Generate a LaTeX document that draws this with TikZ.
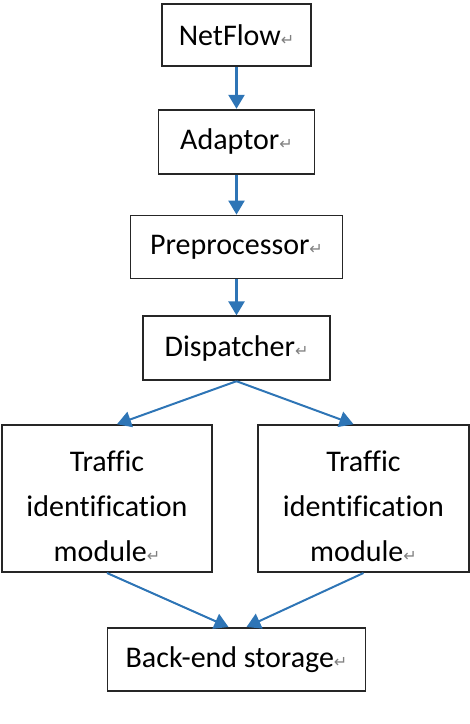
\documentclass[tikz,border=0pt]{standalone}
\usepackage{fontspec}
\setmainfont[Ligatures=NoCommon]{Carlito}
\newfontfamily\retfont{DejaVu Sans}
\usepackage{xcolor}
\usepackage{tikz}
\usetikzlibrary{arrows.meta,positioning}
\definecolor{flowblue}{RGB}{46,117,182}
\newcommand{\ret}{{\retfont\fontsize{8}{8}\selectfont\color{gray}↵}}

\begin{document}
\begin{tikzpicture}[
    module/.style={rectangle,draw=black!85,line width=0.9pt,align=center,inner sep=0pt,font=\fontsize{15}{22.5}\selectfont},
    flow/.style={-{Triangle[length=7pt,width=8pt]},draw=flowblue,line width=1.2pt},
    split/.style={flow,line width=1pt}
]
\useasboundingbox (0,0) rectangle (235pt,-362pt);
\node[module,minimum width=74.5pt,minimum height=31pt,anchor=north] (netflow) at (118.25pt,-1.5pt) {NetFlow\ret};
\node[module,minimum width=78pt,minimum height=32pt,below=21pt of netflow] (adaptor) {Adaptor\ret};
\node[module,minimum width=106pt,minimum height=31.5pt,below=20pt of adaptor] (prep) {Preprocessor\ret};
\node[module,minimum width=93.5pt,minimum height=32pt,below=18pt of prep] (disp) {Dispatcher\ret};
\node[module,minimum width=105pt,minimum height=73.5pt,below=21.5pt of disp,xshift=-64.75pt] (tileft) {\rule{0pt}{18pt}Traffic\\identification\\module\ret};
\node[module,minimum width=105.5pt,minimum height=73.5pt,below=21.5pt of disp,xshift=63.5pt] (tiright) {\rule{0pt}{18pt}Traffic\\identification\\module\ret};
\coordinate (mid) at (disp |- tileft.south);
\node[module,minimum width=129pt,minimum height=31.5pt,below=27pt of mid] (store) {Back-end storage\ret};
\draw[flow] (netflow) -- (adaptor);
\draw[flow] (adaptor) -- (prep);
\draw[flow] (prep) -- (disp);
\draw[split] (disp.south) -- ([xshift=5pt]tileft.north);
\draw[split] (disp.south) -- ([xshift=-5pt]tiright.north);
\draw[split] (tileft.south) -- ([xshift=-4pt]store.north);
\draw[split] (tiright.south) -- ([xshift=5pt]store.north);
\end{tikzpicture}
\end{document}
